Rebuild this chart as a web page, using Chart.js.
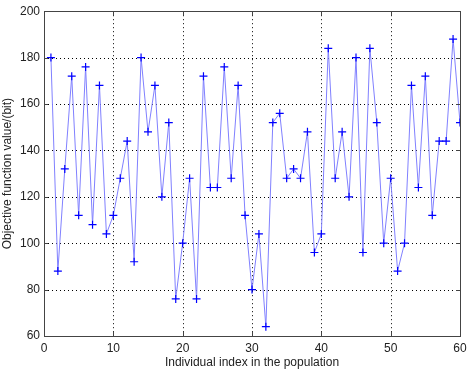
<!DOCTYPE html>
<html>
<head>
<meta charset="utf-8">
<script src="https://cdn.jsdelivr.net/npm/chart.js@4/dist/chart.umd.min.js"></script>
<style>
  html, body { margin:0; padding:0; background:#fff }
  #wrap { width:474px; height:372px }
</style>
</head>
<body>
<div id="wrap"><canvas id="chart" width="474" height="372"></canvas></div>
<script>
// individual index in the population
const individuals = [
  1, 2, 3, 4, 5, 6, 7, 8, 9, 10, 11, 12, 13, 14, 15, 16, 17, 18, 19, 20,
  21, 22, 23, 24, 25, 26, 27, 28, 29, 30, 31, 32, 33, 34, 35, 36, 37, 38, 39, 40,
  41, 42, 43, 44, 45, 46, 47, 48, 49, 50, 51, 52, 53, 54, 55, 56, 57, 58, 59, 60,
]
// objective function value (bit)
const objValues = [
  180, 88, 132, 172, 112, 176, 108, 168, 104, 112, 128, 144, 92, 180, 148, 168, 120, 152, 76, 100,
  128, 76, 172, 124, 124, 176, 128, 168, 112, 80, 104, 64, 152, 156, 128, 132, 128, 148, 96, 104,
  184, 128, 148, 120, 180, 96, 184, 152, 100, 128, 88, 100, 168, 124, 172, 112, 144, 144, 188, 152,
]
const xTicks = [0, 10, 20, 30, 40, 50, 60]
const yTicks = [60, 80, 100, 120, 140, 160, 180, 200]

const FONT = { family: 'Liberation Sans, Arial, sans-serif', size: 12 }

// dotted grid drawn under the data
const gridPlugin = {
  id: 'dotgrid',
  beforeDatasetsDraw(chart) {
    const { ctx, chartArea: a, scales } = chart
    ctx.save()
    ctx.beginPath()
    ctx.rect(a.left, a.top, a.right - a.left, a.bottom - a.top)
    ctx.clip()
    ctx.strokeStyle = '#000'
    ctx.lineWidth = 1
    ctx.setLineDash([1, 3])
    ctx.beginPath()
    xTicks.slice(1, -1).forEach(v => {
      const x = Math.round(scales.x.getPixelForValue(v)) + 0.5
      ctx.moveTo(x, a.top); ctx.lineTo(x, a.bottom)
    })
    yTicks.slice(1, -1).forEach(v => {
      const y = Math.round(scales.y.getPixelForValue(v)) + 0.5
      ctx.moveTo(a.left, y); ctx.lineTo(a.right, y)
    })
    ctx.stroke()
    ctx.restore()
  },
}

// matlab style box + inward ticks
const boxPlugin = {
  id: 'box',
  afterDraw(chart) {
    const { ctx, chartArea: a, scales } = chart
    ctx.save()
    ctx.strokeStyle = '#444'
    ctx.lineWidth = 1
    ctx.setLineDash([])
    ctx.beginPath()
    xTicks.forEach(v => {
      const x = Math.round(scales.x.getPixelForValue(v)) + 0.5
      ctx.moveTo(x, a.bottom); ctx.lineTo(x, a.bottom - 4)
      ctx.moveTo(x, a.top);    ctx.lineTo(x, a.top + 4)
    })
    yTicks.forEach(v => {
      const y = Math.round(scales.y.getPixelForValue(v)) + 0.5
      ctx.moveTo(a.left, y);  ctx.lineTo(a.left + 4, y)
      ctx.moveTo(a.right, y); ctx.lineTo(a.right - 4, y)
    })
    ctx.stroke()
    ctx.strokeRect(Math.round(a.left) + 0.5, Math.round(a.top) + 0.5,
                   Math.round(a.right - a.left), Math.round(a.bottom - a.top))
    ctx.restore()
  },
}

new Chart(document.getElementById('chart'), {
  type: 'line',
  data: {
    labels: individuals,
    datasets: [{
      data: individuals.map((x, i) => ({ x, y: objValues[i] })),
      borderColor: '#8080ff',
      borderWidth: 1,
      tension: 0,
      pointStyle: 'cross',
      pointRadius: 4,
      pointBorderColor: '#0000ff',
      pointBorderWidth: 1.2,
      pointBackgroundColor: '#0000ff',
    }],
  },
  options: {
    responsive: false,
    animation: false,
    devicePixelRatio: 1,
    layout: { padding: { top: 9, right: 14, left: 0, bottom: 0 } },
    plugins: { legend: { display: false }, tooltip: { enabled: false } },
    scales: {
      x: {
        type: 'linear', min: 0, max: 60,
        afterBuildTicks: s => { s.ticks = xTicks.map(v => ({ value: v })) },
        afterFit: s => { s.height = 36 },
        grid: { display: false, drawTicks: false },
        border: { display: false },
        ticks: { color: '#222', font: FONT, padding: 5, maxRotation: 0 },
        title: { display: true, text: 'Individual index in the population', color: '#222', font: FONT, padding: { top: 0, bottom: 2 } },
      },
      y: {
        type: 'linear', min: 60, max: 200,
        afterBuildTicks: s => { s.ticks = yTicks.map(v => ({ value: v })) },
        afterFit: s => { s.width = 44 },
        grid: { display: false, drawTicks: false },
        border: { display: false },
        ticks: { color: '#222', font: FONT, padding: 4 },
        title: { display: true, text: 'Objective function value/(bit)', color: '#222', font: FONT, padding: { top: 0, bottom: 0 } },
      },
    },
  },
  plugins: [gridPlugin, boxPlugin],
})
</script>
</body>
</html>
